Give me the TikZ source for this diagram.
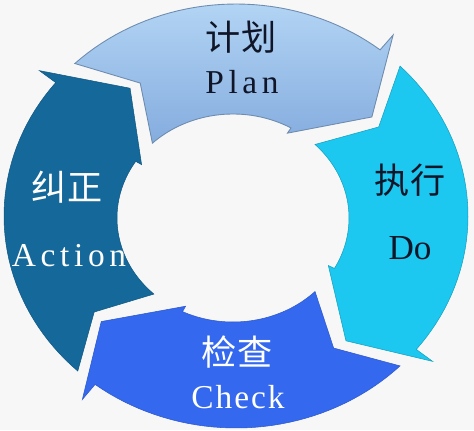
\documentclass[tikz,border=0pt]{standalone}
\usepackage{fontspec}
\setmainfont{Liberation Serif}
\newfontfamily\cjk{Noto Sans CJK SC}
\newfontfamily\spaced[LetterSpace=14]{Liberation Serif}
\newfontfamily\tight[LetterSpace=6]{Liberation Serif}
\usetikzlibrary{calc}
\colorlet{colorBG}{white!94!gray}
\definecolor{colorPlanTop}{RGB}{178,212,244}
\definecolor{colorPlanBot}{RGB}{132,172,222}
\definecolor{colorPlanLine}{RGB}{110,140,175}
\definecolor{colorDo}{RGB}{28,200,240}
\definecolor{colorCheck}{RGB}{52,104,238}
\definecolor{colorAction}{RGB}{20,104,154}
\definecolor{colorInk}{RGB}{16,22,40}
% one ring arrow: style, tail, notch, outer barb, inner barb, tip (angles, clockwise)
\newcommand{\pdcaarrow}[6]{%
  \path[#1] ({236+232*cos(#2)},{216+212*sin(#2)})
    -- plot[domain=#2:#4,samples=40] ({236+232*cos(\x)},{216+212*sin(\x)})
    -- ({236+253*cos(#4)},{216+231*sin(#4)})
    -- ({234.5+176*cos(#6)},{217+160*sin(#6)})
    -- ({233+109*cos(#5)},{218+98*sin(#5)})
    -- plot[domain=#5:#2,samples=40] ({233+116*cos(\x)},{218+104*sin(\x)})
    -- ({234.5+175*cos(#3)},{217+159*sin(#3)})
    -- cycle;}
\tikzset{
   plan/.style={top color=colorPlanTop,bottom color=colorPlanBot,draw=colorPlanLine,line width=0.5pt},
   do/.style={fill=colorDo,draw=colorDo!80!black,line width=0.3pt},
   check/.style={fill=colorCheck,draw=colorCheck!85!black,line width=0.3pt},
   action/.style={fill=colorAction,draw=colorAction!85!black,line width=0.3pt},
   cnlab/.style={font=\cjk\fontsize{20}{22}\selectfont,inner sep=0pt},
   enlab/.style={font=\spaced\fontsize{19}{21}\selectfont,inner sep=0pt},
   cklab/.style={font=\tight\fontsize{19}{21}\selectfont,inner sep=0pt},
   dolab/.style={font=\fontsize{20}{22}\selectfont,inner sep=0pt},
}
\begin{document}
\begin{tikzpicture}[x=0.02cm,y=-0.02cm]
  \useasboundingbox (0,0) rectangle (474,430);
  \fill[colorBG] (0,0) rectangle (474,430);
  \pdcaarrow{plan}{-134}{-122.6}{-51.6}{-60}{-38.7}
  \pdcaarrow{do}{-45}{-34.5}{39}{29}{50.7}
  \pdcaarrow{check}{45}{55.5}{127.4}{115.8}{139.2}
  \pdcaarrow{action}{133}{143.3}{219}{213}{233.6}
  \node[cnlab,colorInk] (plancn) at (241,37) {计划};
  \node[enlab,colorInk] (planen) at (242,82) {Plan};
  \node[cnlab,colorInk] (docn) at (410,180) {执行};
  \node[dolab,colorInk] (doen) at (410,248) {Do};
  \node[cnlab,white] (checkcn) at (237,352) {检查};
  \node[cklab,white] (checken) at (238,397) {Check};
  \node[cnlab,white] (actioncn) at (67,187) {纠正};
  \node[enlab,white] (actionen) at (69,256) {Action};
\end{tikzpicture}
\end{document}
